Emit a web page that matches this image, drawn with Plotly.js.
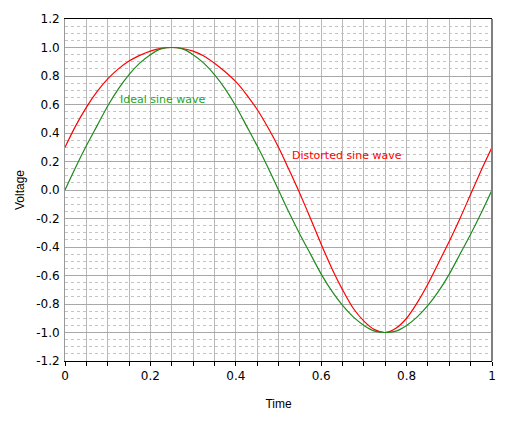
<!DOCTYPE html>
<html>
<head>
<meta charset="utf-8">
<script src="https://cdn.plot.ly/plotly-3.0.1.min.js"></script>
<style>
  html, body { margin: 0; padding: 0; background: #fff; }
  #chart { width: 512px; height: 427px; }
</style>
</head>
<body>
<div id="chart"></div>
<script>
// Sample times (one period, step 0.025)
const time = [0, 0.025, 0.05, 0.075, 0.1, 0.125, 0.15, 0.175, 0.2, 0.225,
              0.25, 0.275, 0.3, 0.325, 0.35, 0.375, 0.4, 0.425, 0.45, 0.475,
              0.5, 0.525, 0.55, 0.575, 0.6, 0.625, 0.65, 0.675, 0.7, 0.725,
              0.75, 0.775, 0.8, 0.825, 0.85, 0.875, 0.9, 0.925, 0.95, 0.975, 1.0];

// Ideal sine wave
const idealVoltage = [0.0, 0.16, 0.31, 0.45, 0.59, 0.71, 0.81, 0.89, 0.95, 0.99,
                      1.0, 0.99, 0.95, 0.89, 0.81, 0.71, 0.59, 0.45, 0.31, 0.16,
                      0.0, -0.16, -0.31, -0.45, -0.59, -0.71, -0.81, -0.89, -0.95, -0.99,
                      -1.0, -0.99, -0.95, -0.89, -0.81, -0.71, -0.59, -0.45, -0.31, -0.16, 0.0];

// Distorted sine wave
const distortedVoltage = [0.30, 0.45, 0.58, 0.69, 0.78, 0.85, 0.905, 0.945, 0.975, 0.994,
                          1.0, 0.993, 0.975, 0.94, 0.89, 0.83, 0.76, 0.67, 0.565, 0.44,
                          0.30, 0.14, -0.025, -0.20, -0.38, -0.55, -0.70, -0.83, -0.92, -0.98,
                          -1.0, -0.97, -0.90, -0.79, -0.66, -0.51, -0.36, -0.20, -0.03, 0.14, 0.30];

// Axis tick labels
const xTickVals = [0, 0.2, 0.4, 0.6, 0.8, 1];
const xTickText = ['0', '0.2', '0.4', '0.6', '0.8', '1'];
const yTickVals = [-1.2, -1.0, -0.8, -0.6, -0.4, -0.2, 0, 0.2, 0.4, 0.6, 0.8, 1.0, 1.2];
const yTickText = ['-1.2', '-1.0', '-0.8', '-0.6', '-0.4', '-0.2', '0.0', '0.2', '0.4', '0.6', '0.8', '1.0', '1.2'];

const tickFont = { family: 'DejaVu Sans', size: 12, color: '#000' };

const traces = [
  {
    x: time, y: distortedVoltage, type: 'scatter', mode: 'lines',
    line: { color: '#ff0000', width: 1.2, shape: 'spline', smoothing: 0.8 },
    name: 'Distorted sine wave', hoverinfo: 'skip'
  },
  {
    x: time, y: idealVoltage, type: 'scatter', mode: 'lines',
    line: { color: '#1f8a1f', width: 1.2, shape: 'spline', smoothing: 0.8 },
    name: 'Ideal sine wave', hoverinfo: 'skip'
  }
];

const layout = {
  width: 512, height: 427,
  margin: { l: 65, r: 20, t: 19, b: 66 },
  paper_bgcolor: '#fff', plot_bgcolor: '#fff',
  showlegend: false,
  font: { family: 'DejaVu Sans', size: 12, color: '#000' },
  xaxis: {
    range: [0, 1], fixedrange: true,
    tickvals: xTickVals, ticktext: xTickText,
    ticks: 'outside', ticklen: 4, tickcolor: '#000', tickwidth: 1,
    tickfont: tickFont,
    showline: true, linecolor: '#000', linewidth: 1, mirror: true,
    showgrid: true, gridcolor: '#b8b8b8', gridwidth: 1,
    zeroline: false,
    minor: { dtick: 0.05, ticks: 'outside', ticklen: 4, tickcolor: '#000',
             showgrid: true, gridcolor: '#b8b8b8', gridwidth: 1 },
    title: { text: 'Time', font: { family: 'Liberation Sans', size: 12, color: '#000' }, standoff: 17 }
  },
  yaxis: {
    range: [-1.2, 1.2], fixedrange: true,
    tickvals: yTickVals, ticktext: yTickText,
    ticks: '', tickfont: tickFont, ticklabelstandoff: 2,
    showline: true, linecolor: '#999', linewidth: 1,
    showgrid: true, gridcolor: '#a8a8a8', gridwidth: 1,
    zeroline: false,
    minor: { dtick: 0.05, showgrid: true, gridcolor: '#c4c4c4', gridwidth: 1, griddash: 'dot' },
    title: { text: 'Voltage', font: { family: 'Liberation Sans', size: 12, color: '#000' }, standoff: 8 }
  },
  shapes: [
    { type: 'line', xref: 'paper', yref: 'paper', x0: 1, x1: 1, y0: 0, y1: 1,
      line: { color: '#808080', width: 2 } }
  ],
  annotations: [
    { x: 0.1245, y: 0.635, xref: 'x', yref: 'y', text: 'Ideal sine wave',
      showarrow: false, xanchor: 'left', yanchor: 'middle',
      font: { family: 'DejaVu Sans', size: 11, color: '#22a822' } },
    { x: 0.528, y: 0.24, xref: 'x', yref: 'y', text: 'Distorted sine wave',
      showarrow: false, xanchor: 'left', yanchor: 'middle',
      font: { family: 'DejaVu Sans', size: 11, color: '#ff0000' } }
  ]
};

Plotly.newPlot('chart', traces, layout, { displayModeBar: false, staticPlot: true });
</script>
</body>
</html>
